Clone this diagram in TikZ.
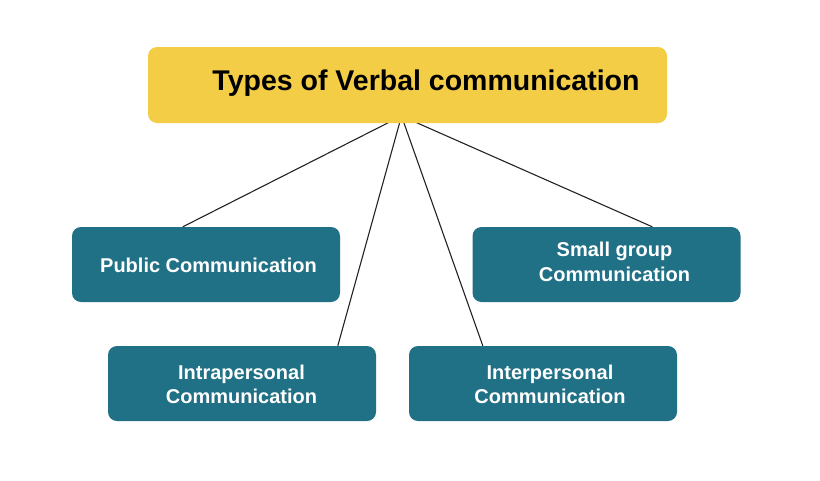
\documentclass[tikz,border=0pt]{standalone}
\usepackage{fontspec}
\setmainfont{Liberation Sans}
\usetikzlibrary{calc}
\definecolor{topyellow}{RGB}{244,205,70}
\definecolor{tealbox}{RGB}{32,112,134}
\definecolor{linegray}{RGB}{35,35,35}
\begin{document}
\begin{tikzpicture}[x=1pt,y=-1pt,
  topbox/.style={fill=topyellow, rounded corners=9pt, minimum width=519pt, minimum height=76pt, inner sep=0pt},
  typebox/.style={fill=tealbox, rounded corners=9pt, minimum width=268pt, minimum height=75pt, inner sep=0pt},
  typetext/.style={text=white, align=center, font=\bfseries\fontsize{20}{24.5}\selectfont, inner sep=0pt},
  link/.style={draw=linegray, line width=1.1pt}]
\useasboundingbox (0,0) rectangle (820,480);
\fill[white] (0,0) rectangle (820,480);
\coordinate (hub) at (401.5,116);
\node[typebox] (pub) at (206,264.5) {};
\node[typebox] (small) at (606.5,264.5) {};
\node[typebox] (intra) at (242,383.5) {};
\node[typebox] (inter) at (543,383.5) {};
\node[typetext] (pubt) at (208.5,265) {Public Communication};
\node[typetext] (smallt) at (614.5,262) {Small group\\Communication};
\node[typetext] (intrat) at (241.5,384.5) {Intrapersonal\\Communication};
\node[typetext] (intert) at (550,384.5) {Interpersonal\\Communication};
\draw[link] (hub) -- ($(pub.north west)+(111,0)$);
\draw[link] (hub) -- ($(intra.north west)+(230,0)$);
\draw[link] (hub) -- ($(inter.north west)+(74,0)$);
\draw[link] (hub) -- ($(small.north west)+(180,0)$);
\node[topbox] (top) at (407.5,85) {};
\node[font=\bfseries\fontsize{28.5}{33}\selectfont, anchor=center, inner sep=0pt] (title) at (426,83) {Types of Verbal communication};
\end{tikzpicture}
\end{document}
